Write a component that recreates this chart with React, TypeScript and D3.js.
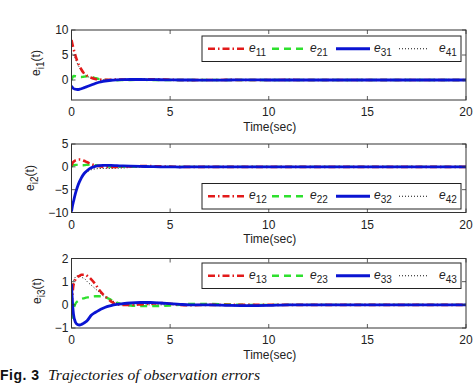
import React from "react";
import * as d3 from "d3";

// ---------- DATA ----------
const timeSec = [0, 0.05, 0.1, 0.2, 0.3, 0.4, 0.5, 0.6, 0.7, 0.8, 1.0, 1.2, 1.4, 1.6, 1.8, 2.0, 2.3, 2.6, 3.0, 3.5, 4.0, 4.5, 5.0, 5.5, 6, 7, 8, 9, 10, 11, 12, 13, 14, 15, 16, 17, 18, 19, 20];

// panel 1: e_i1
const e11 = [8, 7.1, 6.3, 4.9, 3.7, 2.8, 2.1, 1.5, 1.1, 0.8, 0.45, 0.22, 0.1, 0.05, 0.04, 0.05, 0.08, 0.1, 0.12, 0.15, 0.15, 0.12, 0.05, 0, -0.02, 0, 0.02, 0, 0, 0.02, 0, 0, 0, 0, 0, 0, 0, 0, 0];
const e21 = [0, 0.5, 0.8, 0.75, 0.65, 0.6, 0.6, 0.65, 0.7, 0.75, 0.65, 0.4, 0.18, 0.06, 0, -0.05, -0.05, 0, 0, 0.02, 0, 0, 0, 0, 0, 0, 0, 0, 0, 0, 0, 0, 0, 0, 0, 0, 0, 0, 0];
const e31 = [-1.2, -1.5, -1.7, -1.85, -1.9, -1.85, -1.75, -1.6, -1.45, -1.3, -1.0, -0.7, -0.45, -0.28, -0.15, -0.05, 0.03, 0.07, 0.1, 0.1, 0.08, 0.05, 0.03, 0, 0, -0.02, 0, 0.02, 0, 0, 0, 0, 0, 0, 0, 0, 0, 0, 0];
const e41 = [5.5, 5.3, 5.0, 4.2, 3.3, 2.5, 1.9, 1.4, 1.0, 0.75, 0.4, 0.2, 0.1, 0.05, 0, 0, 0, 0, 0, 0, 0, 0, 0, 0, 0, 0, 0, 0, 0, 0, 0, 0, 0, 0, 0, 0, 0, 0, 0];

// panel 2: e_i2
const e12 = [0.3, 0.8, 1.1, 1.4, 1.55, 1.6, 1.55, 1.4, 1.2, 1.0, 0.6, 0.3, 0.15, 0.05, 0, 0, 0, 0.05, 0.1, 0.15, 0.15, 0.1, 0.05, 0, 0, 0, 0, 0, 0, 0, 0, 0, 0, 0, 0, 0, 0, 0, 0];
const e22 = [0, 0.3, 0.4, 0.45, 0.45, 0.4, 0.35, 0.35, 0.4, 0.45, 0.5, 0.35, 0.2, 0.1, 0.05, 0, 0, 0, 0, 0, 0, 0, 0, 0, 0, 0, 0, 0, 0, 0, 0, 0, 0, 0, 0, 0, 0, 0, 0];
const e32 = [-9.8, -8.5, -7.6, -5.8, -4.4, -3.3, -2.4, -1.7, -1.2, -0.8, -0.2, 0.1, 0.25, 0.3, 0.3, 0.3, 0.25, 0.2, 0.15, 0.1, 0.05, 0, 0, -0.05, 0, 0, 0, 0, 0, 0, 0, 0, 0, 0, 0, 0, 0, 0, 0];
const e42 = [-9.2, -8.2, -7.3, -5.7, -4.4, -3.4, -2.6, -2.0, -1.5, -1.1, -0.65, -0.45, -0.38, -0.35, -0.35, -0.35, -0.3, -0.25, -0.15, -0.1, -0.05, 0, 0, 0, 0, 0, 0, 0, 0, 0, 0, 0, 0, 0, 0, 0, 0, 0, 0];

// panel 3: e_i3
const e13 = [0, 0.5, 0.85, 1.1, 1.2, 1.25, 1.3, 1.3, 1.3, 1.25, 1.1, 0.9, 0.65, 0.45, 0.3, 0.15, 0.02, 0, 0, 0.02, 0.05, 0.08, 0.05, 0, -0.02, 0, 0, 0, 0, 0, 0, 0, 0, 0, 0, 0, 0, 0, 0];
const e23 = [-0.6, -0.4, -0.2, 0.05, 0.15, 0.2, 0.25, 0.28, 0.3, 0.32, 0.35, 0.37, 0.37, 0.35, 0.3, 0.22, 0.1, 0.02, -0.03, -0.05, -0.06, -0.05, -0.03, 0, 0.04, 0.04, 0.02, 0, 0, 0, 0, 0, 0, 0, 0, 0, 0, 0, 0];
const e33 = [0.9, 0.1, -0.4, -0.75, -0.85, -0.87, -0.85, -0.8, -0.75, -0.68, -0.45, -0.33, -0.23, -0.15, -0.08, -0.03, 0.02, 0.05, 0.08, 0.1, 0.1, 0.08, 0.05, 0.02, 0, 0, -0.02, -0.03, -0.02, 0, 0, 0, 0, 0, 0, 0, 0, 0, 0];
const e43 = [0, 0.7, 1.0, 1.2, 1.25, 1.25, 1.2, 1.15, 1.1, 1.0, 0.85, 0.7, 0.55, 0.4, 0.3, 0.2, 0.1, 0.05, 0, 0, 0, 0, 0, 0, 0, 0, 0, 0, 0, 0, 0, 0, 0, 0, 0, 0, 0, 0, 0];

const xTicks = [0, 5, 10, 15, 20];
const yTicks1 = [0, 5, 10];
const yTicks2 = [-10, -5, 0, 5];
const yTicks3 = [-1, 0, 1, 2];
const yDomain1: [number, number] = [-4, 10];
const yDomain2: [number, number] = [-10, 5];
const yDomain3: [number, number] = [-1, 2];
const yLabels = ["i1", "i2", "i3"];
const legendSubs1 = ["11", "21", "31", "41"];
const legendSubs2 = ["12", "22", "32", "42"];
const legendSubs3 = ["13", "23", "33", "43"];
const xLabel = "Time(sec)";
const captionBold = "Fig. 3";
const captionText = "Trajectories of observation errors";

// ---------- STYLE ----------
const W = 474;
const H = 384;
const FONT = "'Liberation Sans', Arial, Helvetica, sans-serif";
const styles = [
  { color: "#e21a1a", width: 2.6, dash: "7,3,1.5,3" },
  { color: "#2ee02e", width: 2.3, dash: "7,5" },
  { color: "#0a14d2", width: 2.8, dash: "" },
  { color: "#111111", width: 1, dash: "1,2" },
];

const X0 = 71.5;
const X1 = 466;

interface PanelProps {
  top: number;
  bottom: number;
  yDomain: [number, number];
  yTicks: number[];
  series: number[][];
  yLab: string;
  yLabX: number;
  yLabY: number;
  legendTop: number;
  legendSubs: string[];
}

function Panel(p: PanelProps) {
  const x = d3.scaleLinear().domain([0, 20]).range([X0, X1]);
  const y = d3.scaleLinear().domain(p.yDomain).range([p.bottom, p.top]);
  const line = d3
    .line<number>()
    .x((_, i) => x(timeSec[i]))
    .y((d) => y(d))
    .curve(d3.curveMonotoneX);
  const order = [3, 1, 0, 2];
  const lg = { left: 202, right: 461, h: 25.5 };
  const ly = p.legendTop + lg.h / 2;
  const entries = [
    { l0: 208, l1: 247, t: 249 },
    { l0: 272, l1: 307, t: 310 },
    { l0: 336, l1: 370, t: 374 },
    { l0: 399, l1: 428, t: 439 },
  ];
  const tickLen = 4;
  return (
    <g>
      <rect x={X0} y={p.top} width={X1 - X0} height={p.bottom - p.top} fill="#fff" />
      <clipPath id={`clip${p.top}`}>
        <rect x={X0} y={p.top} width={X1 - X0} height={p.bottom - p.top} />
      </clipPath>
      <g clipPath={`url(#clip${p.top})`}>
        {order.map((k) => (
          <path
            key={k}
            d={line(p.series[k]) || ""}
            fill="none"
            stroke={styles[k].color}
            strokeWidth={styles[k].width}
            strokeDasharray={styles[k].dash || undefined}
          />
        ))}
      </g>
      {xTicks.map((t) => (
        <g key={"xt" + t}>
          <line x1={x(t)} x2={x(t)} y1={p.bottom} y2={p.bottom - tickLen} stroke="#333" strokeWidth={0.8} />
          <line x1={x(t)} x2={x(t)} y1={p.top} y2={p.top + tickLen} stroke="#333" strokeWidth={0.8} />
          <text x={x(t)} y={p.bottom + 16} textAnchor="middle" fontSize={12} fontFamily={FONT} fill="#222">
            {t}
          </text>
        </g>
      ))}
      {p.yTicks.map((t) => (
        <g key={"yt" + t}>
          <line x1={X0} x2={X0 + tickLen} y1={y(t)} y2={y(t)} stroke="#333" strokeWidth={0.8} />
          <line x1={X1} x2={X1 - tickLen} y1={y(t)} y2={y(t)} stroke="#333" strokeWidth={0.8} />
          <text x={X0 - 3} y={y(t) + 4.3} textAnchor="end" fontSize={12} fontFamily={FONT} fill="#222">
            {t < 0 ? "\u2212" + Math.abs(t) : t}
          </text>
        </g>
      ))}
      <rect x={X0} y={p.top} width={X1 - X0} height={p.bottom - p.top} fill="none" stroke="#333" strokeWidth={1} />
      <text x={(X0 + X1) / 2 + 1} y={p.bottom + 30.5} textAnchor="middle" fontSize={12} fontFamily={FONT} fill="#222">
        {xLabel}
      </text>
      <text
        transform={`translate(${p.yLabX},${p.yLabY}) rotate(-90)`}
        textAnchor="middle"
        fontSize={12}
        fontFamily={FONT}
        fill="#222"
      >
        <tspan>e</tspan>
        <tspan dy={4} fontSize={10}>{p.yLab}</tspan>
        <tspan dy={-4}>(t)</tspan>
      </text>
      <rect x={lg.left} y={p.legendTop} width={lg.right - lg.left} height={lg.h} fill="#fff" stroke="#222" strokeWidth={1} />
      {entries.map((e, k) => (
        <g key={"lg" + k}>
          <line
            x1={e.l0}
            x2={e.l1}
            y1={ly}
            y2={ly}
            stroke={styles[k].color}
            strokeWidth={styles[k].width}
            strokeDasharray={styles[k].dash || undefined}
          />
          <text x={e.t} y={ly + 3} fontSize={12} fontFamily={FONT} fill="#222" fontStyle="italic">
            e
            <tspan dy={4} fontSize={10} fontStyle="normal">{p.legendSubs[k]}</tspan>
          </text>
        </g>
      ))}
    </g>
  );
}

export default function App() {
  return (
    <div style={{ position: "absolute", left: 0, top: 0, width: W, height: H, background: "#fff" }}>
      <svg width={W} height={H} viewBox={`0 0 ${W} ${H}`} style={{ display: "block" }}>
        <rect width={W} height={H} fill="#fff" />
        <Panel
          top={30}
          bottom={100}
          yDomain={yDomain1}
          yTicks={yTicks1}
          series={[e11, e21, e31, e41]}
          yLab={yLabels[0]}
          yLabX={40}
          yLabY={63}
          legendTop={36}
          legendSubs={legendSubs1}
        />
        <Panel
          top={144}
          bottom={212.5}
          yDomain={yDomain2}
          yTicks={yTicks2}
          series={[e12, e22, e32, e42]}
          yLab={yLabels[1]}
          yLabX={34}
          yLabY={178}
          legendTop={183.5}
          legendSubs={legendSubs2}
        />
        <Panel
          top={258.5}
          bottom={328}
          yDomain={yDomain3}
          yTicks={yTicks3}
          series={[e13, e23, e33, e43]}
          yLab={yLabels[2]}
          yLabX={41}
          yLabY={291}
          legendTop={263}
          legendSubs={legendSubs3}
        />
        <text x={0} y={380} fontSize={14} fontFamily={FONT} fontWeight="bold" fill="#111" textLength={39} lengthAdjust="spacing">
          {captionBold}
        </text>
        <text
          x={48}
          y={380}
          fontSize={14.5}
          fontFamily="'Liberation Serif', 'Times New Roman', serif"
          fontStyle="italic"
          fill="#111"
          textLength={212}
          lengthAdjust="spacingAndGlyphs"
        >
          {captionText}
        </text>
      </svg>
    </div>
  );
}
